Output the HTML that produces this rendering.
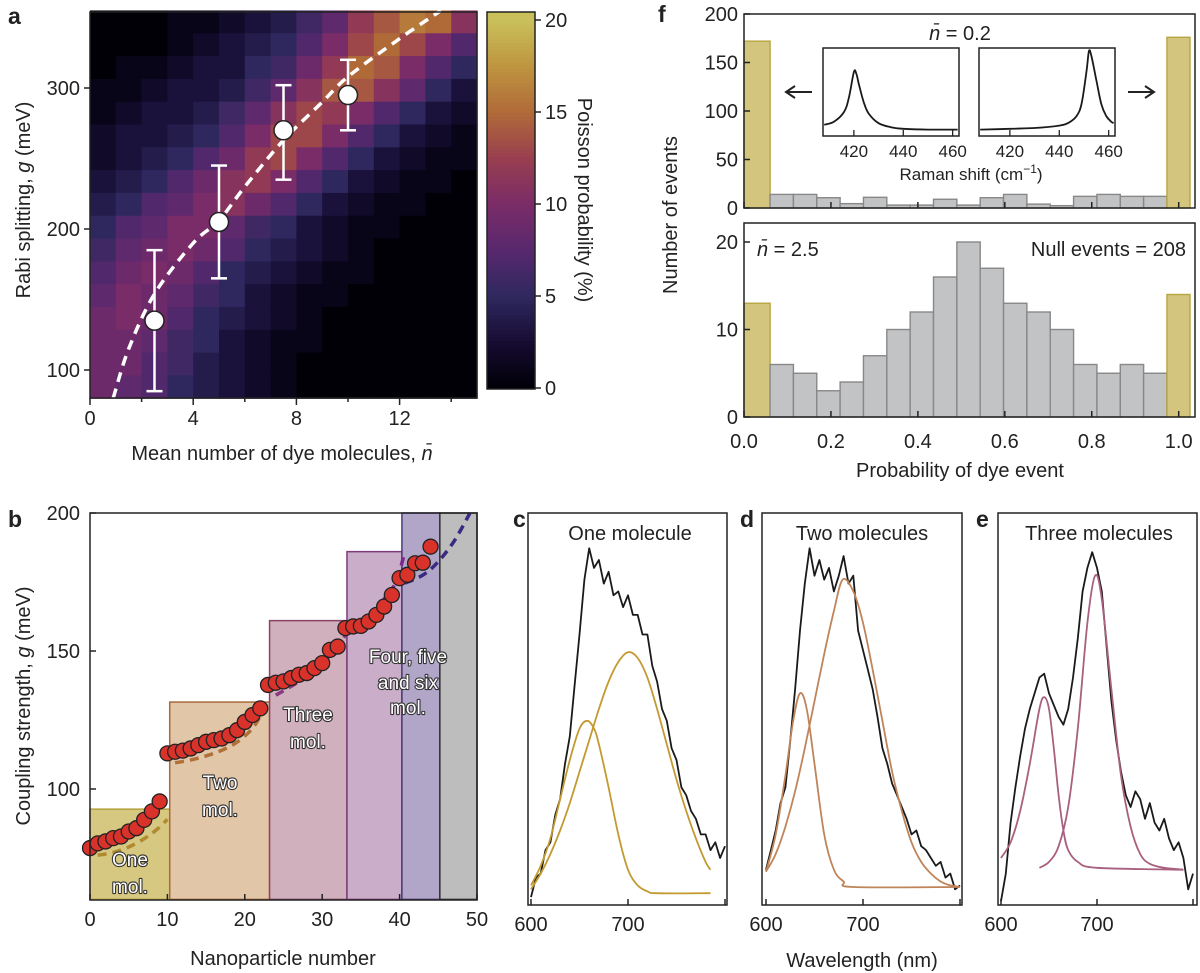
<!DOCTYPE html>
<html><head><meta charset="utf-8"><style>
html,body{margin:0;padding:0;background:#fff}
svg{display:block}
text{font-family:"Liberation Sans",sans-serif;fill:#222}
.t{font-size:20px}
.s{font-size:17px}
.p{font-size:23px;font-weight:bold}
.bl{font-size:19px;fill:#fff;stroke:#333;stroke-width:2.2px;paint-order:stroke;stroke-linejoin:round}
</style></head><body>
<svg id="fig" width="1200" height="973" viewBox="0 0 1200 973">
<g id="gA"></g>
<g id="gB"></g>
<g id="gC"></g>
<g id="gF"></g>
<text class="p" x="8" y="24">a</text>
<text class="p" x="8" y="527">b</text>
<text class="p" x="513" y="527">c</text>
<text class="p" x="740" y="527">d</text>
<text class="p" x="976" y="527">e</text>
<text class="p" x="658" y="22">f</text>
<text class="t" x="30" y="200" text-anchor="middle" transform="rotate(-90 30 200)">Rabi splitting, <tspan font-style="italic">g</tspan> (meV)</text>
<text class="t" x="282" y="460" text-anchor="middle">Mean number of dye molecules, <tspan font-style="italic">n̄</tspan></text>
<text class="t" x="578" y="200" text-anchor="middle" transform="rotate(90 578 200)">Poisson probability (%)</text>
<text class="t" x="30" y="706" text-anchor="middle" transform="rotate(-90 30 706)">Coupling strength, <tspan font-style="italic">g</tspan> (meV)</text>
<text class="t" x="283" y="965" text-anchor="middle">Nanoparticle number</text>
<text class="t" x="862" y="967" text-anchor="middle">Wavelength (nm)</text>
<text class="t" x="677" y="215" text-anchor="middle" transform="rotate(-90 677 215)">Number of events</text>
<text class="t" x="960" y="477" text-anchor="middle">Probability of dye event</text>
<text class="t" x="960" y="40" text-anchor="middle"><tspan font-style="italic">n̄</tspan> = 0.2</text>
<text class="t" x="757" y="256"><tspan font-style="italic">n̄</tspan> = 2.5</text>
<text class="t" x="1186" y="256" text-anchor="end">Null events = 208</text>
<text class="s" x="971" y="180" text-anchor="middle">Raman shift (cm<tspan dy="-7" font-size="12">−1</tspan><tspan dy="7">)</tspan></text>
<text class="t" x="630" y="540" text-anchor="middle">One molecule</text>
<text class="t" x="862" y="540" text-anchor="middle">Two molecules</text>
<text class="t" x="1099" y="540" text-anchor="middle">Three molecules</text>
</svg>
<script>
// ---------- data ----------
const heatRows = [
[0,0,0,1,1,2,3,4,6,8,12,14,16,15,11],
[0,0,0,1,2,3,4,5,7,10,13,15,13,10,7],
[0,1,1,2,3,3,5,6,9,12,15,14,10,7,5],
[1,1,2,3,3,4,6,8,11,14,14,11,8,5,3],
[1,2,3,3,4,6,8,11,13,12,10,7,5,3,2],
[2,3,3,4,5,7,10,13,13,10,7,5,3,2,1],
[2,3,4,5,7,9,12,13,10,7,5,3,2,1,1],
[3,4,5,7,9,11,12,10,7,5,3,2,1,1,0],
[4,5,7,8,10,11,9,7,5,3,2,1,1,0,0],
[5,7,8,10,10,8,6,5,3,2,1,1,0,0,0],
[6,8,9,10,9,7,5,4,3,2,1,0,0,0,0],
[7,9,10,9,7,5,4,3,2,1,1,0,0,0,0],
[8,10,9,8,6,5,3,2,1,1,0,0,0,0,0],
[9,10,9,7,5,4,3,2,1,0,0,0,0,0,0],
[9,9,8,6,5,3,2,1,1,0,0,0,0,0,0],
[9,9,7,6,4,3,2,1,0,0,0,0,0,0,0],
[9,8,7,5,4,3,2,1,0,0,0,0,0,0,0]];
const aPtN = [2.5,5,7.5,10];
const aPtG = [135,205,270,295];
const aErrLo = [85,165,235,270];
const aErrHi = [185,245,302,320];
const aFitN = [0.9,1.5,2.5,4,5,6,7.5,9,10,12,13.6];
const aFitG = [80,115,154,190,206,230,263,290,308,335,355];
const aXTicks = [0,4,8,12];
const aYTicks = [100,200,300];
const cbTicks = [0,5,10,15,20];
const bG = [78.6,80.3,81,82.2,82.8,84.6,85.8,88.8,91.9,95.5,112.9,113.5,113.9,114.7,115.9,117.1,117.7,118.3,119.5,121.3,124.3,126.8,129.2,137.7,138.5,139,140.2,141.4,142,143.8,145.6,150.4,151.6,158.3,158.9,159.1,160.7,163.1,166.1,170.3,176.4,177.6,181.8,182,187.8];
const boxStart = [0,10.3,23.2,33.2,40.3,45.2];
const boxEnd = [10.3,23.2,33.2,40.3,45.2,50];
const boxTop = [92.7,131.5,161,186,200,200];
const fit1X=[1,3,5,7,8.5,10], fit1G=[76,77,79,82,85,89];
const fit2X=[11,13,15,17,19,21,22.5], fit2G=[109.5,110.5,112,114,117,122,129];
const fit3X=[24,27,30,32,33.5], fit3G=[134,139,145.6,151.6,158];
const fit4X=[33,36,38,39.5,40.5], fit4G=[156.7,162,168.8,174.8,184];
const fit5X=[40.7,43,44.8,47,49.1], fit5G=[174.6,177.5,181.8,189.6,200];
const bXTicks=[0,10,20,30,40,50], bYTicks=[100,150,200];
const cSpec=[2,7,8,14,16,23,27,36,43,56,69,83,91,86,88,82,85,79,80,76,79,74,74,69,69,61,57,50,47,40,37,30,28,24,22,18,18,14,16,12,15];
const dSpec=[9,14,19,26,30,42,55,70,82,91,84,88,83,86,80,84,89,82,84,70,65,60,55,48,40,36,31,28,25,22,18,19,15,14,12,10,11,7,8,4,5];
const eSpec=[1,8,21,30,38,45,50,54,58,59,54,51,48,46,50,58,68,80,86,90,86,80,66,52,42,34,28,25,29,27,22,26,21,19,22,17,14,16,12,4,8];
const cF1N=[600,610,620,630,640,650,658,665,670,680,690,700,710,720,730,785], cF1V=[5,10,17,27,37,45,47,45,41,30,18,9,5,3.5,3,3];
const cF2N=[600,610,620,630,640,650,660,670,680,690,700,710,720,730,740,750,760,770,780,785], cF2V=[4,8,13,19,26,34,42,50,57,62,64.5,63,58,50,41,32,24,17,11,9];
const dF1N=[600,610,620,628,635,642,650,660,670,680,690,800], dF1V=[8.5,18,33,47,54,50,36,18,9,6,4.6,4.6];
const dF2N=[600,610,620,630,640,650,660,670,679,690,700,710,720,730,740,750,760,770,780,790,800], dF2V=[8.5,13,20,29,40,52,64,75,83,80,72,60,47,34,24,16,11,8,6,5,4.6];
const eF1N=[600,610,620,630,640,645,650,655,660,665,670,680,700,790], eF1V=[12,16,24,36,50,53,50,40,28,19,14,11,9.5,9];
const eF2N=[640,650,660,670,680,690,698,705,715,725,735,745,755,770,790], eF2V=[9.5,11,15,25,45,72,84,78,55,33,20,13,10.5,9.5,9];
const fTopCounts=[172,14,14,10.6,4.5,11,3,3,9,3,10.6,14,4,2.4,12,14,12,12,176];
const fBotCounts=[13,6,5,3,4,7,10,12,16,20,17,13,12,10,6,5,6,5,14];
const fXTicks=[0,0.2,0.4,0.6,0.8,1.0];
const fTopTicks=[0,50,100,150,200], fBotTicks=[0,10,20];
const insL_R=[408,412,416,418,420,421,422,424,426,430,435,440,450,460,462], insL_V=[14,18,30,48,80,78,65,42,28,16,11,9,8,8,8];
const insR_R=[408,420,430,440,444,447,449,451,452,453,455,457,459,461,462], insR_V=[8,9,10,13,17,25,40,80,106,100,70,40,25,18,16];
const insTicks=[420,440,460];

// ---------- helpers ----------
const NS='http://www.w3.org/2000/svg';
function mk(parent,tag,attrs,name){
  const el=document.createElementNS(NS,tag);
  for(const k in attrs) el.setAttribute(k,attrs[k]);
  
  
  parent.appendChild(el);
  return el;
}
function txt(parent,x,y,s,cls,anchor,name){
  const t=mk(parent,'text',{x:x,y:y,'class':cls,'text-anchor':anchor||'middle'},name);
  t.textContent=s;return t;
}
function poly(xs,ys,sx,sy){return xs.map((v,i)=>sx(v).toFixed(1)+','+sy(ys[i]).toFixed(1)).join(' ');}
function smooth(xs,ys,sx,sy){
  const P=xs.map((v,i)=>[sx(v),sy(ys[i])]);
  let d='M'+P[0][0].toFixed(1)+','+P[0][1].toFixed(1);
  for(let i=0;i<P.length-1;i++){
    const p0=P[i-1]||P[i],p1=P[i],p2=P[i+1],p3=P[i+2]||p2;
    const c1=[p1[0]+(p2[0]-p0[0])/6,p1[1]+(p2[1]-p0[1])/6];
    const c2=[p2[0]-(p3[0]-p1[0])/6,p2[1]-(p3[1]-p1[1])/6];
    d+=' C'+c1.map(v=>v.toFixed(1))+' '+c2.map(v=>v.toFixed(1))+' '+p2[0].toFixed(1)+','+p2[1].toFixed(1);
  }
  return d;
}
const stops=[[0,[0,0,6]],[2.5,[22,12,50]],[5,[46,40,94]],[7.5,[88,40,110]],[10,[122,44,104]],[12.5,[152,62,80]],[15,[176,106,56]],[17.5,[190,148,64]],[20,[201,192,90]]];
function cmap(v){
  v=Math.max(0,Math.min(20,v));
  for(let i=0;i<stops.length-1;i++){
    const a=stops[i],b=stops[i+1];
    if(v<=b[0]){const t=(v-a[0])/(b[0]-a[0]);
      return 'rgb('+a[1].map((c,j)=>Math.round(c+(b[1][j]-c)*t)).join(',')+')';}
  }
  return 'rgb(201,192,90)';
}

// ---------- panel a ----------
const gA=document.getElementById('gA');
const ax=n=>90+n*25.8, ay=g=>88+(300-g)*1.41;
const gTop=355,gBot=80,rowH=(gTop-gBot)/heatRows.length;
heatRows.forEach((row,r)=>row.forEach((v,c)=>{
  mk(gA,'rect',{x:ax(c).toFixed(2),y:ay(gTop-r*rowH).toFixed(2),width:26.4,height:(rowH*1.41+0.6).toFixed(2),fill:cmap(v)},'heatmap-cell');
}));
mk(gA,'path',{d:smooth(aFitN,aFitG,ax,ay),fill:'none',stroke:'#fff','stroke-width':3.5,'stroke-dasharray':'10,7'},'poisson-fit-curve');
aPtN.forEach((n,i)=>{
  mk(gA,'line',{x1:ax(n),x2:ax(n),y1:ay(aErrLo[i]),y2:ay(aErrHi[i]),stroke:'#fff','stroke-width':2.5},'error-bar');
  mk(gA,'line',{x1:ax(n)-8,x2:ax(n)+8,y1:ay(aErrLo[i]),y2:ay(aErrLo[i]),stroke:'#fff','stroke-width':2.5},'error-cap-low');
  mk(gA,'line',{x1:ax(n)-8,x2:ax(n)+8,y1:ay(aErrHi[i]),y2:ay(aErrHi[i]),stroke:'#fff','stroke-width':2.5},'error-cap-high');
  mk(gA,'circle',{cx:ax(n),cy:ay(aPtG[i]),r:9.5,fill:'#fff',stroke:'#222','stroke-width':1.5},'data-point');
});
mk(gA,'rect',{x:90,y:12,width:387,height:386,fill:'none',stroke:'#222','stroke-width':1.5},'a-plot-frame');
for(let n=0;n<=14;n+=2){mk(gA,'line',{x1:ax(n),x2:ax(n),y1:398,y2:aXTicks.includes(n)?405:402,stroke:'#222','stroke-width':1.5},'a-x-tick');}
aXTicks.forEach(n=>txt(gA,ax(n),425,String(n),'t','middle','a-x-tick-label'));
aYTicks.forEach(g=>{mk(gA,'line',{x1:84,x2:90,y1:ay(g),y2:ay(g),stroke:'#222','stroke-width':1.5},'a-y-tick');
  txt(gA,80,ay(g)+7,String(g),'t','end','a-y-tick-label');});
const cbY=v=>388-v*18.4;
mk(gA,'rect',{x:487,y:12,width:48,height:20,fill:cmap(20)},'colorbar-top-fill');
for(let i=0;i<100;i++){const v=i*0.2+0.1;
  mk(gA,'rect',{x:487,y:(cbY(v+0.1)).toFixed(2),width:48,height:4.6,fill:cmap(v)},'colorbar-strip');}
mk(gA,'rect',{x:487,y:12,width:48,height:377,fill:'none',stroke:'#222','stroke-width':1.5},'colorbar-frame');
cbTicks.forEach(v=>{mk(gA,'line',{x1:535,x2:541,y1:cbY(v),y2:cbY(v),stroke:'#222','stroke-width':1.5},'colorbar-tick');
  txt(gA,545,cbY(v)+7,String(v),'t','start','colorbar-tick-label');});

// ---------- panel b ----------
const gB=document.getElementById('gB');
const bx=i=>90+i*7.74, by=g=>513+(200-g)*2.76;
const boxFill=['#d6c880','#e2c6a8','#d0b0bc','#c9adc9','#b1a6c8','#bdbdbd'];
const boxStroke=['#b4a03c','#a86a3a','#8c4464','#7c3c7e','#4a3a7a','#333'];
boxStart.forEach((s,i)=>{
  mk(gB,'rect',{x:bx(s),y:by(boxTop[i]),width:bx(boxEnd[i])-bx(s),height:by(60)-by(boxTop[i]),fill:boxFill[i],stroke:boxStroke[i],'stroke-width':1.5},'molecule-count-box');
});
[[fit1X,fit1G,'#b08a30'],[fit2X,fit2G,'#b0703a'],[fit3X,fit3G,'#8a3a80'],[fit4X,fit4G,'#7a2a8a'],[fit5X,fit5G,'#3a2a80']].forEach(f=>{
  mk(gB,'path',{d:smooth(f[0],f[1],bx,by),fill:'none',stroke:f[2],'stroke-width':3.5,'stroke-dasharray':'9,6'},'fit-dashed-curve');
});
bG.forEach((g,i)=>mk(gB,'circle',{cx:bx(i),cy:by(g),r:7.5,fill:'#d8322b',stroke:'#222','stroke-width':1.3},'nanoparticle-point'));
mk(gB,'rect',{x:90,y:513,width:387,height:387,fill:'none',stroke:'#222','stroke-width':1.5},'b-plot-frame');
bXTicks.forEach(i=>{mk(gB,'line',{x1:bx(i),x2:bx(i),y1:900,y2:894,stroke:'#222','stroke-width':1.5},'b-x-tick');
  txt(gB,bx(i),926,String(i),'t','middle','b-x-tick-label');});
bYTicks.forEach(g=>{mk(gB,'line',{x1:90,x2:96,y1:by(g),y2:by(g),stroke:'#222','stroke-width':1.5},'b-y-tick');
  txt(gB,80,by(g)+7,String(g),'t','end','b-y-tick-label');});
[[130,[860,887],['One','mol.']],[220,[783,810],['Two','mol.']],[308,[715,742],['Three','mol.']],[408,[657,683,708],['Four, five','and six','mol.']]].forEach(l=>{
  l[2].forEach((s,k)=>txt(gB,l[0],l[1][k]+6,s,'bl','middle','box-label'));
});

// ---------- panels c, d, e ----------
const gC=document.getElementById('gC');
const specY=v=>905-v*3.92;
function specPanel(left,right,x0,ppn,spec,fits,col,nm){
  const sx=w=>x0+(w-600)*ppn;
  const wl=spec.map((v,i)=>600+i*5);
  mk(gC,'polyline',{points:poly(wl,spec,sx,specY),fill:'none',stroke:'#1a1a1a','stroke-width':1.8,'stroke-linejoin':'round'},nm+'-spectrum');
  fits.forEach(f=>mk(gC,'path',{d:smooth(f[0],f[1],sx,specY),fill:'none',stroke:col,'stroke-width':1.8},nm+'-fit-peak'));
  mk(gC,'rect',{x:left,y:513,width:right-left,height:392,fill:'none',stroke:'#222','stroke-width':1.5},nm+'-frame');
  [600,700,800].forEach(w=>{mk(gC,'line',{x1:sx(w),x2:sx(w),y1:905,y2:899,stroke:'#222','stroke-width':1.5},nm+'-x-tick');});
  [600,700].forEach(w=>txt(gC,sx(w),931,String(w),'t','middle',nm+'-x-tick-label'));
}
specPanel(528,727,531,0.97,cSpec,[[cF1N,cF1V],[cF2N,cF2V]],'#c29a30','c');
specPanel(762,962,766,0.97,dSpec,[[dF1N,dF1V],[dF2N,dF2V]],'#c0845a','d');
specPanel(998,1197,1001,0.96,eSpec,[[eF1N,eF1V],[eF2N,eF2V]],'#a8607e','e');

// ---------- panel f ----------
const gF=document.getElementById('gF');
const fx=p=>744+p*434.7, fyT=v=>208-v*0.97, fyB=v=>417-v*8.75;
const binW=(0.973-0.06)/17;
function binL(i){return i===0?0:(i===18?0.973:0.06+(i-1)*binW);}
function binR(i){return i===0?0.06:(i===18?1.026:0.06+i*binW);}
function hist(counts,fy,base,nm){
  counts.forEach((c,i)=>{const y=i===0||i===18;
    mk(gF,'rect',{x:fx(binL(i)),y:fy(c),width:fx(binR(i))-fx(binL(i)),height:base-fy(c),fill:y?'#d3c57e':'#c2c3c5',stroke:y?'#b6a642':'#888','stroke-width':1.4},nm);});
}
hist(fTopCounts,fyT,208,'top-hist-bar');
hist(fBotCounts,fyB,417,'bottom-hist-bar');
mk(gF,'rect',{x:744,y:14,width:451,height:194,fill:'none',stroke:'#222','stroke-width':1.5},'f-top-frame');
mk(gF,'rect',{x:744,y:223,width:451,height:194,fill:'none',stroke:'#222','stroke-width':1.5},'f-bottom-frame');
fXTicks.forEach(p=>{
  mk(gF,'line',{x1:fx(p),x2:fx(p),y1:208,y2:202,stroke:'#222','stroke-width':1.5},'f-top-x-tick');
  mk(gF,'line',{x1:fx(p),x2:fx(p),y1:417,y2:411,stroke:'#222','stroke-width':1.5},'f-bottom-x-tick');
  txt(gF,fx(p),448,p.toFixed(1),'t','middle','f-x-tick-label');});
fTopTicks.forEach(v=>{mk(gF,'line',{x1:744,x2:750,y1:fyT(v),y2:fyT(v),stroke:'#222','stroke-width':1.5},'f-top-y-tick');
  txt(gF,738,fyT(v)+7,String(v),'t','end','f-top-y-tick-label');});
fBotTicks.forEach(v=>{mk(gF,'line',{x1:744,x2:750,y1:fyB(v),y2:fyB(v),stroke:'#222','stroke-width':1.5},'f-bottom-y-tick');
  txt(gF,738,fyB(v)+7,String(v),'t','end','f-bottom-y-tick-label');});
function inset(left,rs,vs,nm){
  const ix=r=>left+(r-407.5)*2.47, iy=v=>136-v*0.8;
  mk(gF,'rect',{x:left,y:48,width:136,height:88,fill:'#fff',stroke:'#222','stroke-width':1.5},nm+'-frame');
  mk(gF,'path',{d:smooth(rs,vs,ix,iy),fill:'none',stroke:'#1a1a1a','stroke-width':1.8},nm+'-raman-peak');
  insTicks.forEach(r=>{mk(gF,'line',{x1:ix(r),x2:ix(r),y1:136,y2:130,stroke:'#222','stroke-width':1.3},nm+'-tick');
    txt(gF,ix(r),157,String(r),'s','middle',nm+'-tick-label');});
}
inset(823,insL_R,insL_V,'left-inset');
inset(979,insR_R,insR_V,'right-inset');
mk(gF,'path',{d:'M812,92 L787,92 M795,86 L786,92 L795,98',fill:'none',stroke:'#222','stroke-width':2},'left-arrow');
mk(gF,'path',{d:'M1128,92 L1153,92 M1145,86 L1154,92 L1145,98',fill:'none',stroke:'#222','stroke-width':2},'right-arrow');
</script>
</body></html>
